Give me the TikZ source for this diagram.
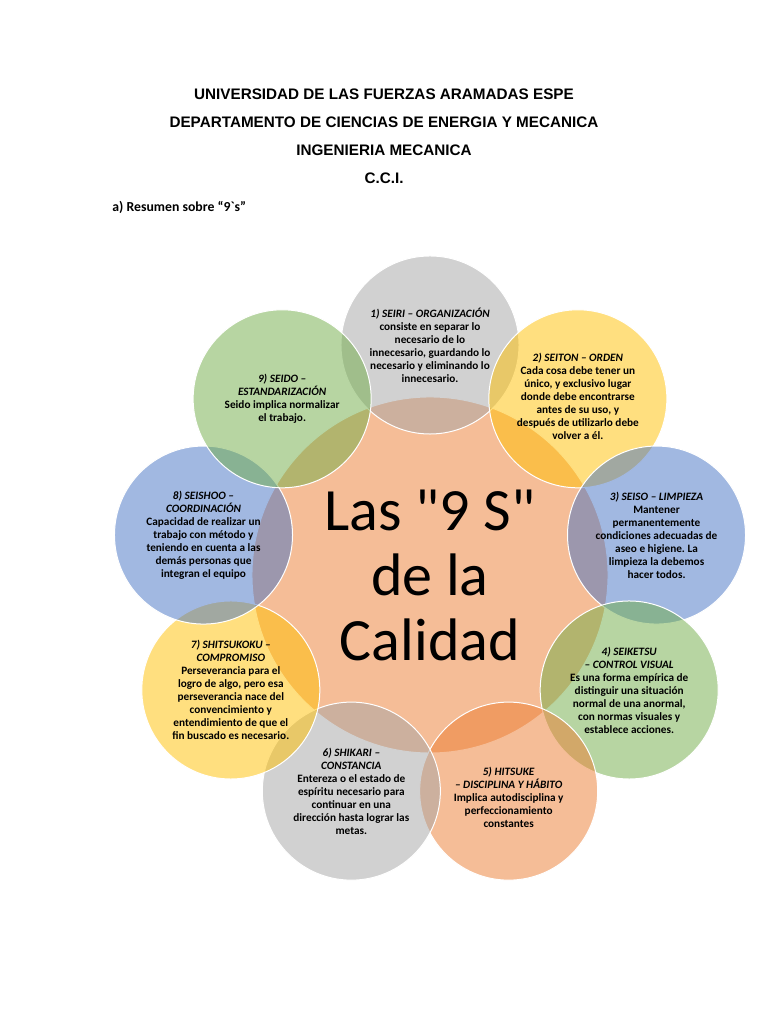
\documentclass[tikz,border=0pt]{standalone}
\usepackage{fontspec}
\setmainfont{Carlito}[Ligatures=TeXOff]
\newfontfamily\arialfont{Liberation Sans}
\usetikzlibrary{positioning,calc}

\definecolor{grisS}{HTML}{A5A5A5}
\definecolor{naranjaS}{HTML}{ED7D31}
\definecolor{amarilloS}{HTML}{FFC000}
\definecolor{azulS}{HTML}{4472C4}
\definecolor{verdeS}{HTML}{70AD47}

\newcommand{\titulo}[1]{\textit{#1}}

\begin{document}
\begin{tikzpicture}[
    x=0.02811cm, y=0.02811cm,
    circulo/.style={circle, fill opacity=0.5, draw=white, line width=0.8pt, minimum size=5.004cm, inner sep=0pt},
    centro/.style={circle, fill=naranjaS, fill opacity=0.5, text opacity=1, draw=white, line width=0.8pt,
                   minimum size=10.008cm, align=center, font=\fontsize{48}{52}\selectfont},
    texto/.style={align=center, font=\bfseries\fontsize{9}{10.4}\selectfont, inner sep=0pt},
    encabezado/.style={font=\arialfont\bfseries\fontsize{12.2}{14}\selectfont}
  ]
  \useasboundingbox (0,0) rectangle (768,1024);
  \fill[white] (0,0) rectangle (768,1024);

  % encabezado
  \node[encabezado] (h1) at (384,930) {UNIVERSIDAD DE LAS FUERZAS ARAMADAS ESPE};
  \node[encabezado] (h2) at (384,902) {DEPARTAMENTO DE CIENCIAS DE ENERGIA Y MECANICA};
  \node[encabezado] (h3) at (384,874) {INGENIERIA MECANICA};
  \node[encabezado] (h4) at (384,846) {C.C.I.};
  \node[anchor=west, font=\bfseries\fontsize{11}{13}\selectfont] (res) at (108,817) {a) Resumen sobre “9`s”};

  % circulo central y las nueve S
  \node[centro] (ctr) at (430,449) {Las "9 S"\\de la\\Calidad};

  \foreach \ang/\col [count=\i] in {90/grisS, 50/amarilloS, 10/azulS, -30/verdeS, -70/naranjaS,
                                   -110/grisS, -150/amarilloS, 170/azulS, 130/verdeS}
    \node[circulo, fill=\col] (c\i) at ($(ctr)+(\ang:230)$) {};

  \node[texto] (t1) at (c1) {\titulo{1) SEIRI – ORGANIZACIÓN}\\consiste en separar lo\\necesario de lo\\innecesario, guardando lo\\necesario y eliminando lo\\innecesario.};
  \node[texto] (t2) at ([yshift=2]c2) {\titulo{2) SEITON – ORDEN}\\Cada cosa debe tener un\\único, y exclusivo lugar\\donde debe encontrarse\\antes de su uso, y\\después de utilizarlo debe\\volver a él.};
  \node[texto] (t3) at (c3) {\titulo{3) SEISO – LIMPIEZA}\\Mantener\\permanentemente\\condiciones adecuadas de\\aseo e higiene.\ La\\limpieza la debemos\\hacer todos.};
  \node[texto] (t4) at (c4) {\titulo{4) SEIKETSU}\\\titulo{– CONTROL VISUAL}\\Es una forma empírica de\\distinguir una situación\\normal de una anormal,\\con normas visuales y\\establece acciones.};
  \node[texto] (t5) at ([yshift=-5]c5) {\titulo{5) HITSUKE}\\\titulo{– DISCIPLINA Y HÁBITO}\\Implica autodisciplina y\\perfeccionamiento\\constantes};
  \node[texto] (t6) at (c6) {\titulo{6) SHIKARI –}\\\titulo{CONSTANCIA}\\Entereza o el estado de\\espíritu necesario para\\continuar en una\\dirección hasta lograr las\\metas.};
  \node[texto] (t7) at (c7) {\titulo{7) SHITSUKOKU –}\\\titulo{COMPROMISO}\\Perseverancia para el\\logro de algo, pero esa\\perseverancia nace del\\convencimiento y\\entendimiento de que el\\fin buscado es necesario.};
  \node[texto] (t8) at (c8) {\titulo{8) SEISHOO –}\\\titulo{COORDINACIÓN}\\Capacidad de realizar un\\trabajo con método y\\teniendo en cuenta a las\\demás personas que\\integran el equipo};
  \node[texto] (t9) at (c9) {\titulo{9) SEIDO –}\\\titulo{ESTANDARIZACIÓN}\\Seido implica normalizar\\el trabajo.};
\end{tikzpicture}
\end{document}
